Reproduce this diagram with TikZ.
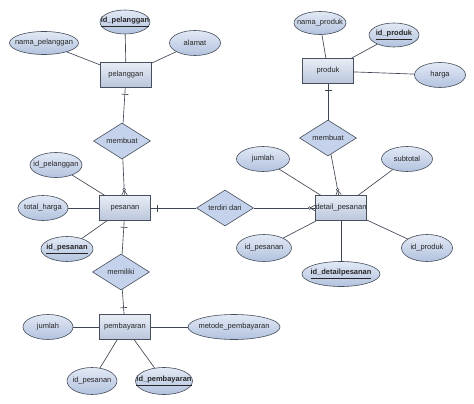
\documentclass[tikz,border=0pt]{standalone}
\usepackage{fontspec}
\setmainfont{Liberation Sans}
\usetikzlibrary{shapes.geometric,decorations.markings}

\definecolor{entTop}{HTML}{E8EDF6}
\definecolor{entBot}{HTML}{BAC6DC}
\definecolor{attTop}{HTML}{E2E9F5}
\definecolor{attBot}{HTML}{B2C2DE}
\definecolor{relFill}{HTML}{C4D3EB}
\definecolor{edge}{HTML}{474E5C}
\definecolor{ink}{HTML}{262626}

\tikzset{
 entity/.style={rectangle,draw=edge,line width=0.7pt,top color=entTop,bottom color=entBot,
   minimum width=51pt,minimum height=25pt,inner sep=0pt,text=ink,font=\fontsize{7.5}{8}\selectfont},
 attr/.style={ellipse,draw=edge,line width=0.6pt,top color=attTop,bottom color=attBot,
   minimum width=51pt,minimum height=25pt,inner xsep=-8pt,inner ysep=0pt,text=ink,font=\fontsize{7.5}{8}\selectfont},
 keyattr/.style={attr,font=\fontsize{7.5}{8}\selectfont\bfseries},
 relation/.style={diamond,draw=edge,line width=0.6pt,fill=relFill,aspect=1.6,
   minimum width=57pt,minimum height=36pt,inner sep=0pt,text=ink,font=\fontsize{7.5}{8}\selectfont},
 link/.style={draw=edge!90!black,line width=0.65pt},
 one/.style={postaction={decorate,decoration={markings,
   mark=at position -6.5pt with {\draw[line width=0.6pt] (0,-3.5pt) -- (0,3.5pt);}}}},
 many/.style={postaction={decorate,decoration={markings,
   mark=at position -0.1pt with {\draw[line width=0.6pt] (-5pt,0) -- (0,2.8pt) (-5pt,0) -- (0,-2.8pt);
     \draw[line width=0.5pt,fill=white] (-5.5pt,0) circle (1.4pt);}}}},
}

\begin{document}
\begin{tikzpicture}[x=1pt,y=-1pt]
 \fill[white] (0,0) rectangle (474,404);
 \useasboundingbox (0,0) rectangle (474,404);

 % entitas
 \node[entity] (pelanggan) at (126,75) {pelanggan};
 \node[entity] (produk) at (328,71) {produk};
 \node[entity] (pesanan) at (125,208) {pesanan};
 \node[entity] (detail) at (341,208) {detail\_pesanan};
 \node[entity] (pembayaran) at (125,327) {pembayaran};

 % relasi
 \node[relation] (membuatA) at (122,141) {membuat};
 \node[relation] (membuatB) at (328,138) {membuat};
 \node[relation] (terdiri) at (225,208) {terdiri dari};
 \node[relation] (memiliki) at (121,272) {memiliki};

 % atribut pelanggan
 \node[keyattr,minimum width=50pt,minimum height=24pt] (idpel) at (125,22) {\underline{id\_pelanggan}};
 \node[attr,minimum width=69pt,minimum height=23pt] (namapel) at (44,43) {nama\_pelanggan};
 \node[attr] (alamat) at (195,43) {alamat};

 % atribut produk
 \node[attr,minimum width=52pt,minimum height=23pt] (namaprod) at (320,23) {nama\_produk};
 \node[keyattr,minimum width=50pt,minimum height=24pt] (idprod) at (394,35) {\underline{id\_produk}};
 \node[attr] (harga) at (440,75) {harga};

 % atribut pesanan
 \node[attr,minimum width=52pt] (idpelB) at (56,165) {id\_pelanggan};
 \node[attr,minimum width=50pt] (total) at (43,208) {total\_harga};
 \node[keyattr,minimum width=52pt] (idpes) at (67,249) {\underline{id\_pesanan}};

 % atribut detail_pesanan
 \node[attr,minimum width=53pt] (jumlahA) at (263,159) {jumlah};
 \node[attr] (subtotal) at (407,159) {subtotal};
 \node[attr,minimum width=55pt,minimum height=27pt] (idpesB) at (264,248) {id\_pesanan};
 \node[attr,minimum height=27pt] (idprodB) at (427,248) {id\_produk};
 \node[keyattr,minimum width=78pt] (iddetail) at (341,274) {\underline{id\_detailpesanan}};

 % atribut pembayaran
 \node[attr,minimum width=50pt] (jumlahB) at (48,327) {jumlah};
 \node[attr,minimum width=92pt] (metode) at (234,327) {metode\_pembayaran};
 \node[attr,minimum width=50pt,minimum height=27pt] (idpesC) at (92,381) {id\_pesanan};
 \node[keyattr,minimum width=57pt,minimum height=27pt] (idbayar) at (164,381) {\underline{id\_pembayaran}};

 \foreach \a in {idpel,namapel,alamat}{ \draw[link] (\a) -- (pelanggan); }
 \foreach \a in {namaprod,idprod,harga}{ \draw[link] (\a) -- (produk); }
 \foreach \a in {idpelB,total,idpes}{ \draw[link] (\a) -- (pesanan); }
 \foreach \a in {jumlahA,subtotal,idpesB,idprodB,iddetail}{ \draw[link] (\a) -- (detail); }
 \foreach \a in {jumlahB,metode,idpesC,idbayar}{ \draw[link] (\a) -- (pembayaran); }

 % kardinalitas
 \draw[link,one] (membuatA) -- (pelanggan);
 \draw[link,many] (membuatA) -- (pesanan);
 \draw[link,one] (membuatB) -- (produk);
 \draw[link,many] (membuatB) -- (detail);
 \draw[link,one] (terdiri) -- (pesanan);
 \draw[link,many] (terdiri) -- (detail);
 \draw[link,one] (memiliki) -- (pesanan);
 \draw[link,one] (memiliki) -- (pembayaran);
\end{tikzpicture}
\end{document}
